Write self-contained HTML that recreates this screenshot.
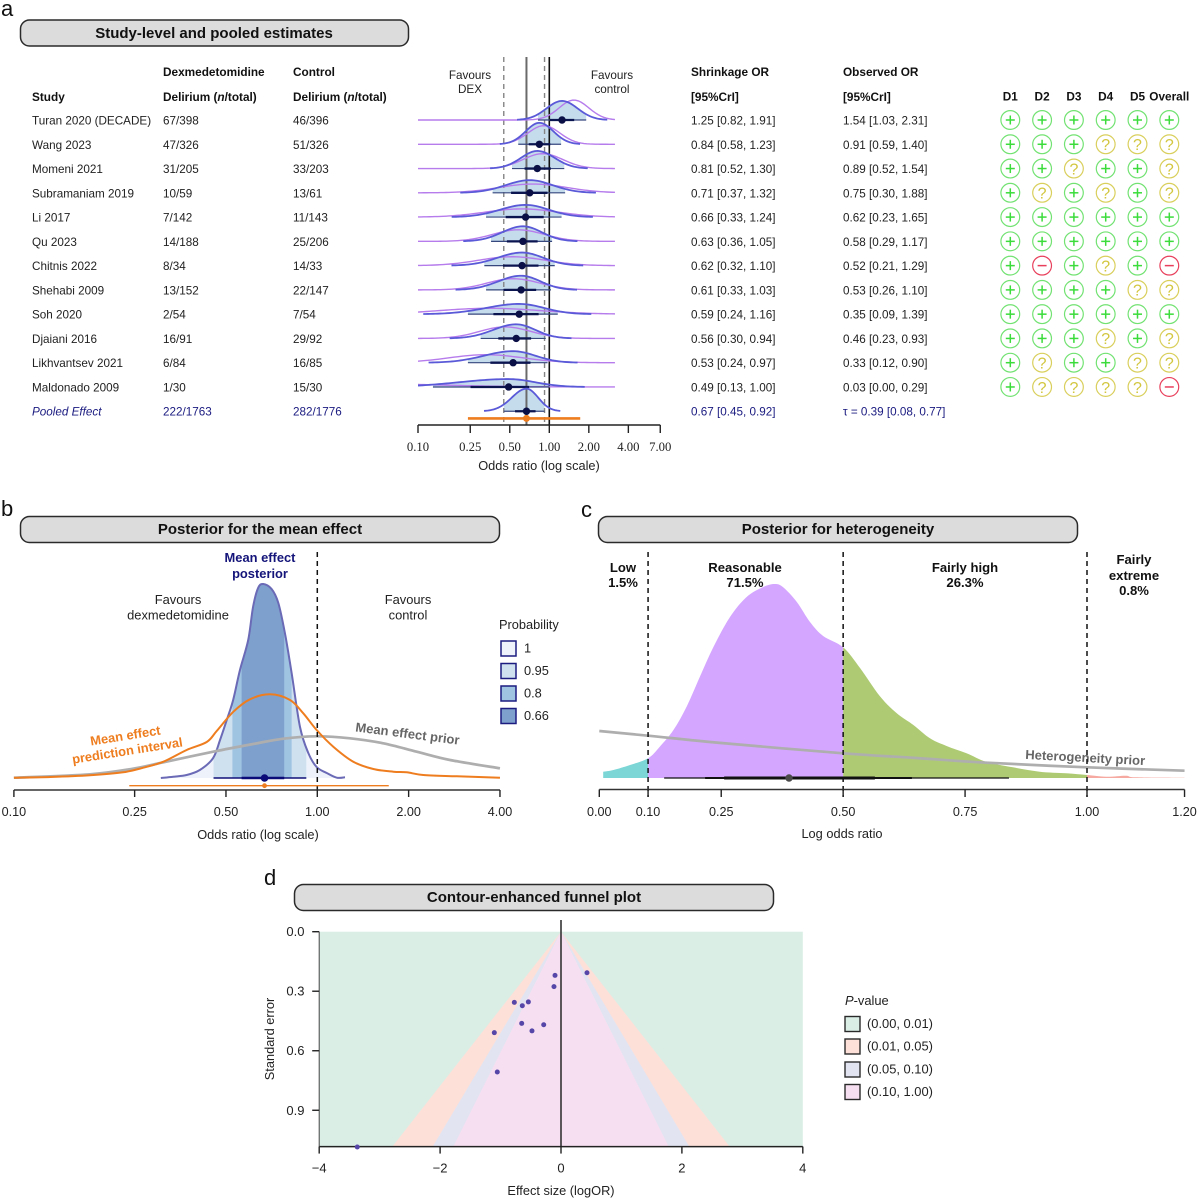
<!DOCTYPE html>
<html lang="en">
<head>
<meta charset="utf-8">
<title>Dexmedetomidine delirium Bayesian meta-analysis</title>
<style>
html,body{margin:0;padding:0;background:#fff}
svg{display:block}
text{font-family:"Liberation Sans",sans-serif;fill:#222}
.hdr{font-size:11.8px;font-weight:bold;fill:#111}
.tb{fill:#dcdcdc;stroke:#2a2a2a;stroke-width:1.5}
.tt{font-size:15px;font-weight:bold;text-anchor:middle;fill:#111}
.pl{font-size:22px;fill:#111}
.ax{font-size:12.6px;text-anchor:middle;fill:#222}
.axt{font-size:12.8px;text-anchor:middle;fill:#222}
.ann{font-size:12.9px;text-anchor:middle;fill:#222}
.bann{font-size:13.1px;font-weight:bold;text-anchor:middle;fill:#111}
</style>
</head>
<body>
<svg id="chart" width="1197" height="1200" viewBox="0 0 1197 1200" xmlns="http://www.w3.org/2000/svg">
<rect width="1197" height="1200" fill="#fff"/>

<text class="pl" x="1" y="16">a</text>
<text class="pl" x="1" y="516">b</text>
<text class="pl" x="581" y="517">c</text>
<text class="pl" x="264" y="885">d</text>

<g>
<rect class="tb" x="20.5" y="20" width="388" height="26" rx="9"/>
<text class="tt" x="214" y="38">Study-level and pooled estimates</text>
</g>
<g>
<rect class="tb" x="20.5" y="516.5" width="479" height="26" rx="9"/>
<text class="tt" x="260" y="534">Posterior for the mean effect</text>
</g>
<g>
<rect class="tb" x="598.5" y="516.5" width="479" height="26" rx="9"/>
<text class="tt" x="838" y="534">Posterior for heterogeneity</text>
</g>
<g>
<rect class="tb" x="294.5" y="884.5" width="479" height="26" rx="9"/>
<text class="tt" x="534" y="902">Contour-enhanced funnel plot</text>
</g>

<g id="panel-a">
<text class="hdr" x="163" y="76">Dexmedetomidine</text>
<text class="hdr" x="293" y="76">Control</text>
<text class="hdr" x="691" y="76">Shrinkage OR</text>
<text class="hdr" x="843" y="76">Observed OR</text>
<text class="hdr" x="32" y="101">Study</text>
<text class="hdr" x="163" y="101">Delirium (<tspan font-style="italic">n</tspan>/total)</text>
<text class="hdr" x="293" y="101">Delirium (<tspan font-style="italic">n</tspan>/total)</text>
<text class="hdr" x="691" y="101">[95%CrI]</text>
<text class="hdr" x="843" y="101">[95%CrI]</text>
<text class="ann" style="font-size:11.7px" x="470" y="79">Favours<tspan x="470" dy="14">DEX</tspan></text>
<text class="ann" style="font-size:11.7px" x="612" y="79">Favours<tspan x="612" dy="14">control</tspan></text>
<text class="axt" x="539" y="470">Odds ratio (log scale)</text>
</g>

<g id="panel-b">
<text class="ann" x="178" y="604">Favours<tspan x="178" dy="15.5">dexmedetomidine</tspan></text>
<text class="ann" x="408" y="604">Favours<tspan x="408" dy="15.5">control</tspan></text>
<text class="axt" x="258" y="839">Odds ratio (log scale)</text>
<text x="499" y="629" font-size="12.8">Probability</text>
<rect x="501" y="641" width="15" height="15" fill="#eef3fb" stroke="#1c1c80" stroke-width="1.5"/>
<text x="524" y="652.5" font-size="12.8">1</text>
<rect x="501" y="663.5" width="15" height="15" fill="#cfe0ef" stroke="#1c1c80" stroke-width="1.5"/>
<text x="524" y="675" font-size="12.8">0.95</text>
<rect x="501" y="686" width="15" height="15" fill="#9fc4e2" stroke="#1c1c80" stroke-width="1.5"/>
<text x="524" y="697.5" font-size="12.8">0.8</text>
<rect x="501" y="708.5" width="15" height="15" fill="#7ea0cc" stroke="#1c1c80" stroke-width="1.5"/>
<text x="524" y="720" font-size="12.8">0.66</text>
</g>

<g id="panel-c">
<text class="axt" x="842" y="838">Log odds ratio</text>
</g>

<g id="panel-d">
<text class="axt" x="561" y="1195">Effect size (logOR)</text>
<text class="axt" transform="translate(274,1039) rotate(-90)">Standard error</text>
<text x="845" y="1005" font-size="12.9"><tspan font-style="italic">P</tspan>-value</text>
<rect x="845" y="1016.5" width="15" height="15" fill="#daeee6" stroke="#2a2a2a" stroke-width="1.4"/>
<text x="867" y="1028" font-size="12.9">(0.00, 0.01)</text>
<rect x="845" y="1039" width="15" height="15" fill="#fde0d8" stroke="#2a2a2a" stroke-width="1.4"/>
<text x="867" y="1050.5" font-size="12.9">(0.01, 0.05)</text>
<rect x="845" y="1062" width="15" height="15" fill="#e2e4f2" stroke="#2a2a2a" stroke-width="1.4"/>
<text x="867" y="1073.5" font-size="12.9">(0.05, 0.10)</text>
<rect x="845" y="1084.5" width="15" height="15" fill="#f6dff0" stroke="#2a2a2a" stroke-width="1.4"/>
<text x="867" y="1096" font-size="12.9">(0.10, 1.00)</text>
</g>
</svg>

<script>
// ---------- Panel a data ----------
const studies = ["Turan 2020 (DECADE)","Wang 2023","Momeni 2021","Subramaniam 2019","Li 2017","Qu 2023","Chitnis 2022","Shehabi 2009","Soh 2020","Djaiani 2016","Likhvantsev 2021","Maldonado 2009"];
const dexCounts = ["67/398","47/326","31/205","10/59","7/142","14/188","8/34","13/152","2/54","16/91","6/84","1/30"];
const ctrlCounts = ["46/396","51/326","33/203","13/61","11/143","25/206","14/33","22/147","7/54","29/92","16/85","15/30"];
const shrinkOR = [1.25,0.84,0.81,0.71,0.66,0.63,0.62,0.61,0.59,0.56,0.53,0.49];
const shrinkLo = [0.82,0.58,0.52,0.37,0.33,0.36,0.32,0.33,0.24,0.30,0.24,0.13];
const shrinkHi = [1.91,1.23,1.30,1.32,1.24,1.05,1.10,1.03,1.16,0.94,0.97,1.00];
const obsOR = [1.54,0.91,0.89,0.75,0.62,0.58,0.52,0.53,0.35,0.46,0.33,0.03];
const obsLo = [1.03,0.59,0.52,0.30,0.23,0.29,0.21,0.26,0.09,0.23,0.12,0.00];
const obsHi = [2.31,1.40,1.54,1.88,1.65,1.17,1.29,1.10,1.39,0.93,0.90,0.29];
const pooledOR = 0.67;
const pooledLo = 0.45;
const pooledHi = 0.92;
const predLo = 0.24;
const predHi = 1.72;
const forestTicks = [0.10,0.25,0.50,1.00,2.00,4.00,7.00];
const riskCols = ["D1","D2","D3","D4","D5","Overall"];
const riskRows = ["++++++","+++???","++?++?","+?+?+?","++++++","++++++","+-+?+-","++++??","++++++","+++?+?","+?++??","+????-"];

// ---------- Panel b data ----------
const postOR = [0.305,0.335,0.371,0.410,0.453,0.478,0.503,0.528,0.556,0.592,0.614,0.638,0.664,0.707,0.744,0.782,0.823,0.877,0.934,0.995,1.074,1.159,1.234];
const postDensity = [0,1.3,3,8,19.7,38,58,78,108,138,171,190,194,189,175,145,105,51,25,11,5,0.3,0.7];
const predOR = [0.100,0.132,0.178,0.229,0.267,0.311,0.371,0.432,0.466,0.529,0.600,0.698,0.813,0.899,0.995,1.129,1.314,1.530,1.780,1.971,2.235,2.880,4.00];
const predDensity = [0.3,1,2.7,5.7,10.3,16.3,28,36,47,66.3,78.7,83.7,78,64.7,48,31.3,16.3,9,6.3,5.7,3,1.7,0.3];
const priorOR = [0.100,0.178,0.247,0.311,0.454,0.615,0.773,0.995,1.282,1.650,2.126,2.738,4.00];
const priorDensity = [0.3,3.7,9.3,15.7,26.3,34,39.3,41.7,39.7,34.7,26.3,18,9.7];
const bandLo = [0.305,0.455,0.525,0.563];
const bandHi = [1.234,0.92,0.823,0.778];
const bandNames = ["1","095","08","066"];
const meanTicks = [0.10,0.25,0.50,1.00,2.00,4.00];

// ---------- Panel c data ----------
const tauGrid = [0.008,0.029,0.063,0.100,0.124,0.152,0.179,0.206,0.234,0.268,0.302,0.336,0.360,0.377,0.405,0.432,0.459,0.500,0.535,0.575,0.610,0.644,0.678,0.712,0.753,0.794,0.848,0.903,0.957,1.000,1.040,1.080,1.100,1.200];
const tauDensity = [6.3,8,13,19.7,31.3,48,71.3,101,131,161,181,191,194,190.7,176,156,142,130.7,109.7,82,64.7,53,39.7,32,24.7,16,10.7,6.3,4.7,3,1.3,2.3,0.7,0.3];
const tauPriorX = [0,0.1,0.25,0.5,0.65,0.794,1.0,1.2];
const tauPriorY = [47,42.3,35,24.7,20,15.3,10.7,7.3];
const tauCuts = [0,0.10,0.50,1.00,1.20];
const tauTicks = [0,0.10,0.25,0.50,0.75,1.00,1.20];
const tauRegionNames = ["low","reasonable","fairly-high","fairly-extreme"];
const tauEstimate = 0.389;
const tau95 = [0.133,0.84];
const tau80 = [0.217,0.641];
const tau66 = [0.256,0.565];

// ---------- Panel d data ----------
const funnelLogOR = [0.43,-0.099,-0.116,-0.772,-0.64,-0.54,-0.65,-0.286,-0.48,-1.103,-1.054,-3.37];
const funnelSE = [0.207,0.22,0.277,0.356,0.373,0.354,0.462,0.469,0.50,0.509,0.707,1.085];
const funnelZ = [2.576,1.96,1.645];
const funnelNames = ["p-001-005","p-005-010","p-010-100"];
const funnelXTicks = [-4,-2,0,2,4];
const funnelYTicks = [0,0.3,0.6,0.9];
const funnelSEMax = 1.083;

// ---------- Scales ----------
const log10 = Math.log10;
const xa = v => 549.3 + 131.3 * log10(v);
const rowY = i => 120 + 24.27 * i;
const xb = v => 317.3 + 303.4 * log10(v);
const yb = d => 778 - d;
const xc = t => 599.3 + 487.7 * t;
const yc = d => 778 - d;
const xd = v => 561 + 60.45 * v;
const yd = s => 931.7 + 198.4 * s;

const NS = "http://www.w3.org/2000/svg";
function add(parent, tag, attrs, text) {
  const el = document.createElementNS(NS, tag);
  for (const k in attrs) el.setAttribute(k, attrs[k]);
  if (text !== undefined) el.textContent = text;
  parent.appendChild(el);
  return el;
}
function smooth(pts) {
  let d = "M" + pts[0][0].toFixed(2) + " " + pts[0][1].toFixed(2);
  for (let i = 0; i < pts.length - 1; i++) {
    const p0 = pts[i - 1] || pts[i], p1 = pts[i], p2 = pts[i + 1], p3 = pts[i + 2] || p2;
    const c1x = p1[0] + (p2[0] - p0[0]) / 6, c1y = p1[1] + (p2[1] - p0[1]) / 6;
    const c2x = p2[0] - (p3[0] - p1[0]) / 6, c2y = p2[1] - (p3[1] - p1[1]) / 6;
    d += "C" + c1x.toFixed(2) + " " + c1y.toFixed(2) + " " + c2x.toFixed(2) + " " + c2y.toFixed(2) + " " + p2[0].toFixed(2) + " " + p2[1].toFixed(2);
  }
  return d;
}
const f2 = v => v.toFixed(2);
const A = document.getElementById("panel-a");
const B = document.getElementById("panel-b");
const C = document.getElementById("panel-c");
const D = document.getElementById("panel-d");
const svgRoot = document.getElementById("chart");
const defs = add(svgRoot, "defs", {});



// ---------- Panel a ----------
function density(or, lo, hi) {
  const m = log10(or), l = log10(Math.max(lo, 0.003)), h = log10(hi);
  const sL = (m - l) / 1.55, sR = (h - m) / 1.55, H = 7 / (h - l);
  return { m, sL, sR, H, at: u => H * Math.exp(-0.5 * Math.pow((u - m) / (u < m ? sL : sR), 2)) };
}
function densityPath(den, uStart, uEnd, base) {
  let d = "";
  for (let k = 0; k <= 70; k++) {
    const u = uStart + (uEnd - uStart) * k / 70;
    const px = 549.3 + 131.3 * u;
    d += (k ? "L" : "M") + px.toFixed(2) + " " + (base - den.at(u)).toFixed(2);
  }
  return d;
}
function drawFill(den, lo, hi, base, nm) {
  const a = log10(lo), b = log10(hi);
  const p = densityPath(den, a, b, base) + "L" + xa(hi).toFixed(2) + " " + base + "L" + xa(lo).toFixed(2) + " " + base + "Z";
  const el = add(A, "path", { d: p, fill: "#c4dcec" });
  
  
}
const allShrinkOR = shrinkOR.concat([pooledOR]);
const allShrinkLo = shrinkLo.concat([pooledLo]);
const allShrinkHi = shrinkHi.concat([pooledHi]);
allShrinkOR.forEach((or, i) => {
  drawFill(density(or, allShrinkLo[i], allShrinkHi[i]), allShrinkLo[i], allShrinkHi[i], rowY(i), "shrinkage-fill");
});

const refGrey = add(A, "line", { x1: xa(pooledOR), x2: xa(pooledOR), y1: 57, y2: 425, stroke: "#6a6a6a", "stroke-width": 2 });


[pooledLo, pooledHi].forEach(v => {
  const l = add(A, "line", { x1: xa(v), x2: xa(v), y1: 57, y2: 425, stroke: "#858585", "stroke-width": 1.4, "stroke-dasharray": "5 4" });
  
  
});
const refBlack = add(A, "line", { x1: xa(1), x2: xa(1), y1: 57, y2: 425, stroke: "#111", "stroke-width": 1.6 });



const clipA = add(defs, "clipPath", { id: "clip-forest" });


const clipARect = add(clipA, "rect", { x: 418, y: 50, width: 197.5, height: 380 });



allShrinkOR.forEach((or, i) => {
  const y = rowY(i);
  if (i < studies.length) {
    const den0 = density(obsOR[i], obsLo[i], obsHi[i]);
    const obsCurve = add(A, "path", { d: densityPath(den0, -1, 0.5, y), fill: "none", stroke: "#b67cec", "stroke-width": 1.4, "clip-path": "url(#clip-forest)" });
    
    
  }
  const den = density(or, allShrinkLo[i], allShrinkHi[i]);
  const shrinkCurve = add(A, "path", { d: densityPath(den, Math.max(-1, den.m - 2.9 * den.sL), Math.min(0.5, den.m + 2.9 * den.sR), y), fill: "none", stroke: "#5a5ad8", "stroke-width": 1.8, "clip-path": "url(#clip-forest)" });
  
  
  const ci = add(A, "line", { x1: xa(allShrinkLo[i]), x2: xa(allShrinkHi[i]), y1: y, y2: y, stroke: "#36477e", "stroke-width": 1.2 });
  
  
  const thick = add(A, "line", { x1: 549.3 + 131.3 * (den.m - 0.78 * den.sL), x2: 549.3 + 131.3 * (den.m + 0.78 * den.sR), y1: y, y2: y, stroke: "#0b1550", "stroke-width": 2.3 });
  
  
  if (i === studies.length) {
    const pi = add(A, "line", { x1: xa(predLo), x2: xa(predHi), y1: 418.4, y2: 418.4, stroke: "#ee7d1f", "stroke-width": 2.6 });
    
    
    const pd = add(A, "circle", { cx: xa(or), cy: 418.4, r: 3.5, fill: "#ee7d1f" });
    
    
  }
  const dot = add(A, "circle", { cx: xa(or), cy: y, r: 3.7, fill: "#0a1045" });
  
  
});

function rowText(x, i, str, cls) {
  const el = add(A, "text", { x: x, y: rowY(i) + 4.5, "font-size": 11.7, style: cls ? "fill:#1a1a80" + (cls === "it" ? ";font-style:italic" : "") : "" }, str);
  return el;
}
studies.forEach((s, i) => {
  const t1 = rowText(32, i, s);
  
  
  const t2 = rowText(163, i, dexCounts[i]);
  
  
  const t3 = rowText(293, i, ctrlCounts[i]);
  
  
  const t4 = rowText(691, i, f2(shrinkOR[i]) + " [" + f2(shrinkLo[i]) + ", " + f2(shrinkHi[i]) + "]");
  
  
  const t5 = rowText(843, i, f2(obsOR[i]) + " [" + f2(obsLo[i]) + ", " + f2(obsHi[i]) + "]");
  
  
});
const pRow = studies.length;
const p1 = rowText(32, pRow, "Pooled Effect", "it");


const p2 = rowText(163, pRow, "222/1763", "n");


const p3 = rowText(293, pRow, "282/1776", "n");


const p4 = rowText(691, pRow, f2(pooledOR) + " [" + f2(pooledLo) + ", " + f2(pooledHi) + "]", "n");


const p5 = rowText(843, pRow, "τ = 0.39 [0.08, 0.77]", "n");



const axA = add(A, "line", { x1: xa(0.1), x2: xa(7), y1: 425, y2: 425, stroke: "#222", "stroke-width": 1.4 });


forestTicks.forEach(v => {
  const t = add(A, "line", { x1: xa(v), x2: xa(v), y1: 425, y2: 433, stroke: "#222", "stroke-width": 1.4 });
  
  
  const l = add(A, "text", { x: xa(v), y: 451, "font-size": 12.7, "text-anchor": "middle", style: 'font-family:"Liberation Serif",serif' }, f2(v));
  
  
});

const riskX = j => 1010.3 + 31.8 * j;
riskCols.forEach((c, j) => {
  const h = add(A, "text", { x: riskX(j), y: 100.5, "font-size": 11.8, "font-weight": "bold", "text-anchor": "middle", style: "fill:#111" }, c);
  
  
});
riskRows.forEach((row, i) => {
  row.split("").forEach((s, j) => {
    const cx = riskX(j), cy = rowY(i);
    const col = s === "+" ? "#72e272" : s === "-" ? "#e8405c" : "#d9cf5c";
    const inner = s === "+" ? "#3bdc3b" : s === "-" ? "#e8405c" : "#d2c63e";
    const ring = add(A, "circle", { cx: cx, cy: cy, r: 9.4, fill: "#fff", stroke: col, "stroke-width": 1.2 });
    
    
    if (s === "?") {
      const q = add(A, "text", { x: cx, y: cy + 5.8, "font-size": 16, "text-anchor": "middle", style: "fill:" + inner }, "?");
      
      
    } else {
      const minus = add(A, "line", { x1: cx - 4.5, x2: cx + 4.5, y1: cy, y2: cy, stroke: inner, "stroke-width": 1.5 });
      
      
      if (s === "+") {
        const vert = add(A, "line", { x1: cx, x2: cx, y1: cy - 4.5, y2: cy + 4.5, stroke: inner, "stroke-width": 1.5 });
        
        
      }
    }
  });
});

// ---------- Panel b ----------
const postPts = postOR.map((v, i) => [xb(v), yb(postDensity[i])]);
const postLine = smooth(postPts);
const postArea = postLine + "L" + xb(postOR[postOR.length - 1]).toFixed(2) + " " + yb(0) + "L" + xb(postOR[0]).toFixed(2) + " " + yb(0) + "Z";
const bandColors = ["#eef3fb", "#cfe0ef", "#9fc4e2", "#7ea0cc"];
bandLo.forEach((lo, i) => {
  const cp = add(defs, "clipPath", { id: "clip-band-" + i });
  
  
  const r = add(cp, "rect", { x: xb(lo), y: 560, width: xb(bandHi[i]) - xb(lo), height: 230 });
  
  
  const a = add(B, "path", { d: postArea, fill: bandColors[i], "clip-path": "url(#clip-band-" + i + ")" });
  
  
});
const postCurve = add(B, "path", { d: postLine, fill: "none", stroke: "#6a6ab6", "stroke-width": 2 });


const priorCurve = add(B, "path", { d: smooth(priorOR.map((v, i) => [xb(v), yb(priorDensity[i])])), fill: "none", stroke: "#aeaeae", "stroke-width": 2.7 });


const predCurve = add(B, "path", { d: smooth(predOR.map((v, i) => [xb(v), yb(predDensity[i])])), fill: "none", stroke: "#ee7d1f", "stroke-width": 2 });


const nullB = add(B, "line", { x1: xb(1), x2: xb(1), y1: 552, y2: 790, stroke: "#111", "stroke-width": 1.5, "stroke-dasharray": "5 4" });


const ci95 = add(B, "line", { x1: xb(bandLo[1]), x2: xb(bandHi[1]), y1: 778, y2: 778, stroke: "#10107a", "stroke-width": 1.4 });


const ci66 = add(B, "line", { x1: xb(bandLo[3]), x2: xb(bandHi[3]), y1: 778, y2: 778, stroke: "#0a0a78", "stroke-width": 2.6 });


const meanDot = add(B, "circle", { cx: xb(pooledOR), cy: 778, r: 3.8, fill: "#0a0a78" });


const piB = add(B, "line", { x1: xb(predLo), x2: xb(predHi), y1: 785.7, y2: 785.7, stroke: "#ee7d1f", "stroke-width": 1.4 });


const piDot = add(B, "circle", { cx: xb(pooledOR), cy: 785.7, r: 2.4, fill: "#ee7d1f" });


const axB = add(B, "line", { x1: xb(0.1), x2: xb(4), y1: 790, y2: 790, stroke: "#333", "stroke-width": 1.6 });


meanTicks.forEach(v => {
  const t = add(B, "line", { x1: xb(v), x2: xb(v), y1: 790, y2: 797, stroke: "#222", "stroke-width": 1.4 });
  
  
  const l = add(B, "text", { x: xb(v), y: 816, class: "ax" }, f2(v));
  
  
});
const annPost = add(B, "text", { x: 260, y: 562, "font-size": 12.9, "font-weight": "bold", "text-anchor": "middle", style: "fill:#14147a" }, "Mean effect");


const annPost2 = add(B, "text", { x: 260, y: 578, "font-size": 12.9, "font-weight": "bold", "text-anchor": "middle", style: "fill:#14147a" }, "posterior");


const annPred = add(B, "text", { transform: "translate(126,740) rotate(-9)", "font-size": 12.9, "font-weight": "bold", "text-anchor": "middle", style: "fill:#ee7d1f" }, "Mean effect");


const annPred2 = add(B, "text", { transform: "translate(128,755) rotate(-9)", "font-size": 12.9, "font-weight": "bold", "text-anchor": "middle", style: "fill:#ee7d1f" }, "prediction interval");


const annPrior = add(B, "text", { transform: "translate(407,738) rotate(7.3)", "font-size": 13, "font-weight": "bold", "text-anchor": "middle", style: "fill:#666" }, "Mean effect prior");



// ---------- Panel c ----------
const tauPts = tauGrid.map((t, i) => [xc(t), yc(tauDensity[i])]);
const tauLine = smooth(tauPts);
const tauArea = tauLine + "L" + xc(tauGrid[tauGrid.length - 1]).toFixed(2) + " " + yc(0) + "L" + xc(tauGrid[0]).toFixed(2) + " " + yc(0) + "Z";
const tauColors = ["#7cd6d6", "#d4a6ff", "#aecb74", "#f5a9a0"];
tauRegionNames.forEach((nm, i) => {
  const cp = add(defs, "clipPath", { id: "clip-tau-" + i });
  
  
  const r = add(cp, "rect", { x: xc(tauCuts[i]), y: 560, width: xc(tauCuts[i + 1]) - xc(tauCuts[i]), height: 230 });
  
  
  const a = add(C, "path", { d: tauArea, fill: tauColors[i], "clip-path": "url(#clip-tau-" + i + ")" });
  
  
});
const tauPrior = add(C, "path", { d: smooth(tauPriorX.map((t, i) => [xc(t), yc(tauPriorY[i])])), fill: "none", stroke: "#aeaeae", "stroke-width": 2.7 });


const priorLabel = add(C, "text", { transform: "translate(1085,762) rotate(3)", "font-size": 13, "font-weight": "bold", "text-anchor": "middle", style: "fill:#666" }, "Heterogeneity prior");


[tauCuts[1], tauCuts[2], tauCuts[3]].forEach(t => {
  const l = add(C, "line", { x1: xc(t), x2: xc(t), y1: 552, y2: 797, stroke: "#111", "stroke-width": 1.5, "stroke-dasharray": "5 4" });
  
  
});
const tc95 = add(C, "line", { x1: xc(tau95[0]), x2: xc(tau95[1]), y1: 778, y2: 778, stroke: "#111", "stroke-width": 1.3 });


const tc80 = add(C, "line", { x1: xc(tau80[0]), x2: xc(tau80[1]), y1: 778, y2: 778, stroke: "#111", "stroke-width": 2 });


const tc66 = add(C, "line", { x1: xc(tau66[0]), x2: xc(tau66[1]), y1: 778, y2: 778, stroke: "#111", "stroke-width": 3 });


const tauDot = add(C, "circle", { cx: xc(tauEstimate), cy: 778, r: 3.7, fill: "#4a4a4a" });


const axC = add(C, "line", { x1: xc(0), x2: xc(1.2), y1: 789.5, y2: 789.5, stroke: "#333", "stroke-width": 1.6 });


tauTicks.forEach(v => {
  const t = add(C, "line", { x1: xc(v), x2: xc(v), y1: 789.5, y2: 797, stroke: "#222", "stroke-width": 1.4 });
  
  
  const l = add(C, "text", { x: xc(v), y: 816, class: "ax" }, f2(v));
  
  
});
const regionText = [[623, 572, "Low"], [623, 587, "1.5%"], [745, 572, "Reasonable"], [745, 587, "71.5%"], [965, 572, "Fairly high"], [965, 587, "26.3%"], [1134, 564, "Fairly"], [1134, 580, "extreme"], [1134, 595, "0.8%"]];
regionText.forEach(r => {
  const t = add(C, "text", { x: r[0], y: r[1], class: "bann" }, r[2]);
  
  
});

// ---------- Panel d ----------
const fBg = add(D, "rect", { x: xd(-4), y: yd(0), width: xd(4) - xd(-4), height: yd(funnelSEMax) - yd(0), fill: "#daeee6" });


const funnelColors = ["#fde0d8", "#e2e4f2", "#f6dff0"];
funnelZ.forEach((z, i) => {
  const w = z * funnelSEMax;
  const poly = add(D, "polygon", { points: xd(0) + "," + yd(0) + " " + xd(w) + "," + yd(funnelSEMax) + " " + xd(-w) + "," + yd(funnelSEMax), fill: funnelColors[i] });
  
  
});
const zeroLine = add(D, "line", { x1: xd(0), x2: xd(0), y1: 920, y2: yd(funnelSEMax), stroke: "#333", "stroke-width": 1.6 });


const axDx = add(D, "line", { x1: xd(-4), x2: xd(4), y1: yd(funnelSEMax), y2: yd(funnelSEMax), stroke: "#222", "stroke-width": 1.5 });


const axDy = add(D, "line", { x1: xd(-4), x2: xd(-4), y1: yd(0), y2: yd(funnelSEMax), stroke: "#444", "stroke-width": 1 });


funnelXTicks.forEach(v => {
  const t = add(D, "line", { x1: xd(v), x2: xd(v), y1: yd(funnelSEMax), y2: yd(funnelSEMax) + 7, stroke: "#222", "stroke-width": 1.4 });
  
  
  const l = add(D, "text", { x: xd(v), y: 1172.5, class: "ax", style: "font-size:13px" }, String(v).replace("-", "\u2212"));
  
  
});
funnelYTicks.forEach(v => {
  const t = add(D, "line", { x1: xd(-4) - 7, x2: xd(-4), y1: yd(v), y2: yd(v), stroke: "#222", "stroke-width": 1.4 });
  
  
  const l = add(D, "text", { x: 304.5, y: yd(v) + 4.5, "font-size": 13, "text-anchor": "end" }, v.toFixed(1));
  
  
});
funnelLogOR.forEach((v, i) => {
  const c = add(D, "circle", { cx: xd(v), cy: yd(funnelSE[i]), r: 2.5, fill: "#5546a8" });
  
  
});
</script>
</body>
</html>
